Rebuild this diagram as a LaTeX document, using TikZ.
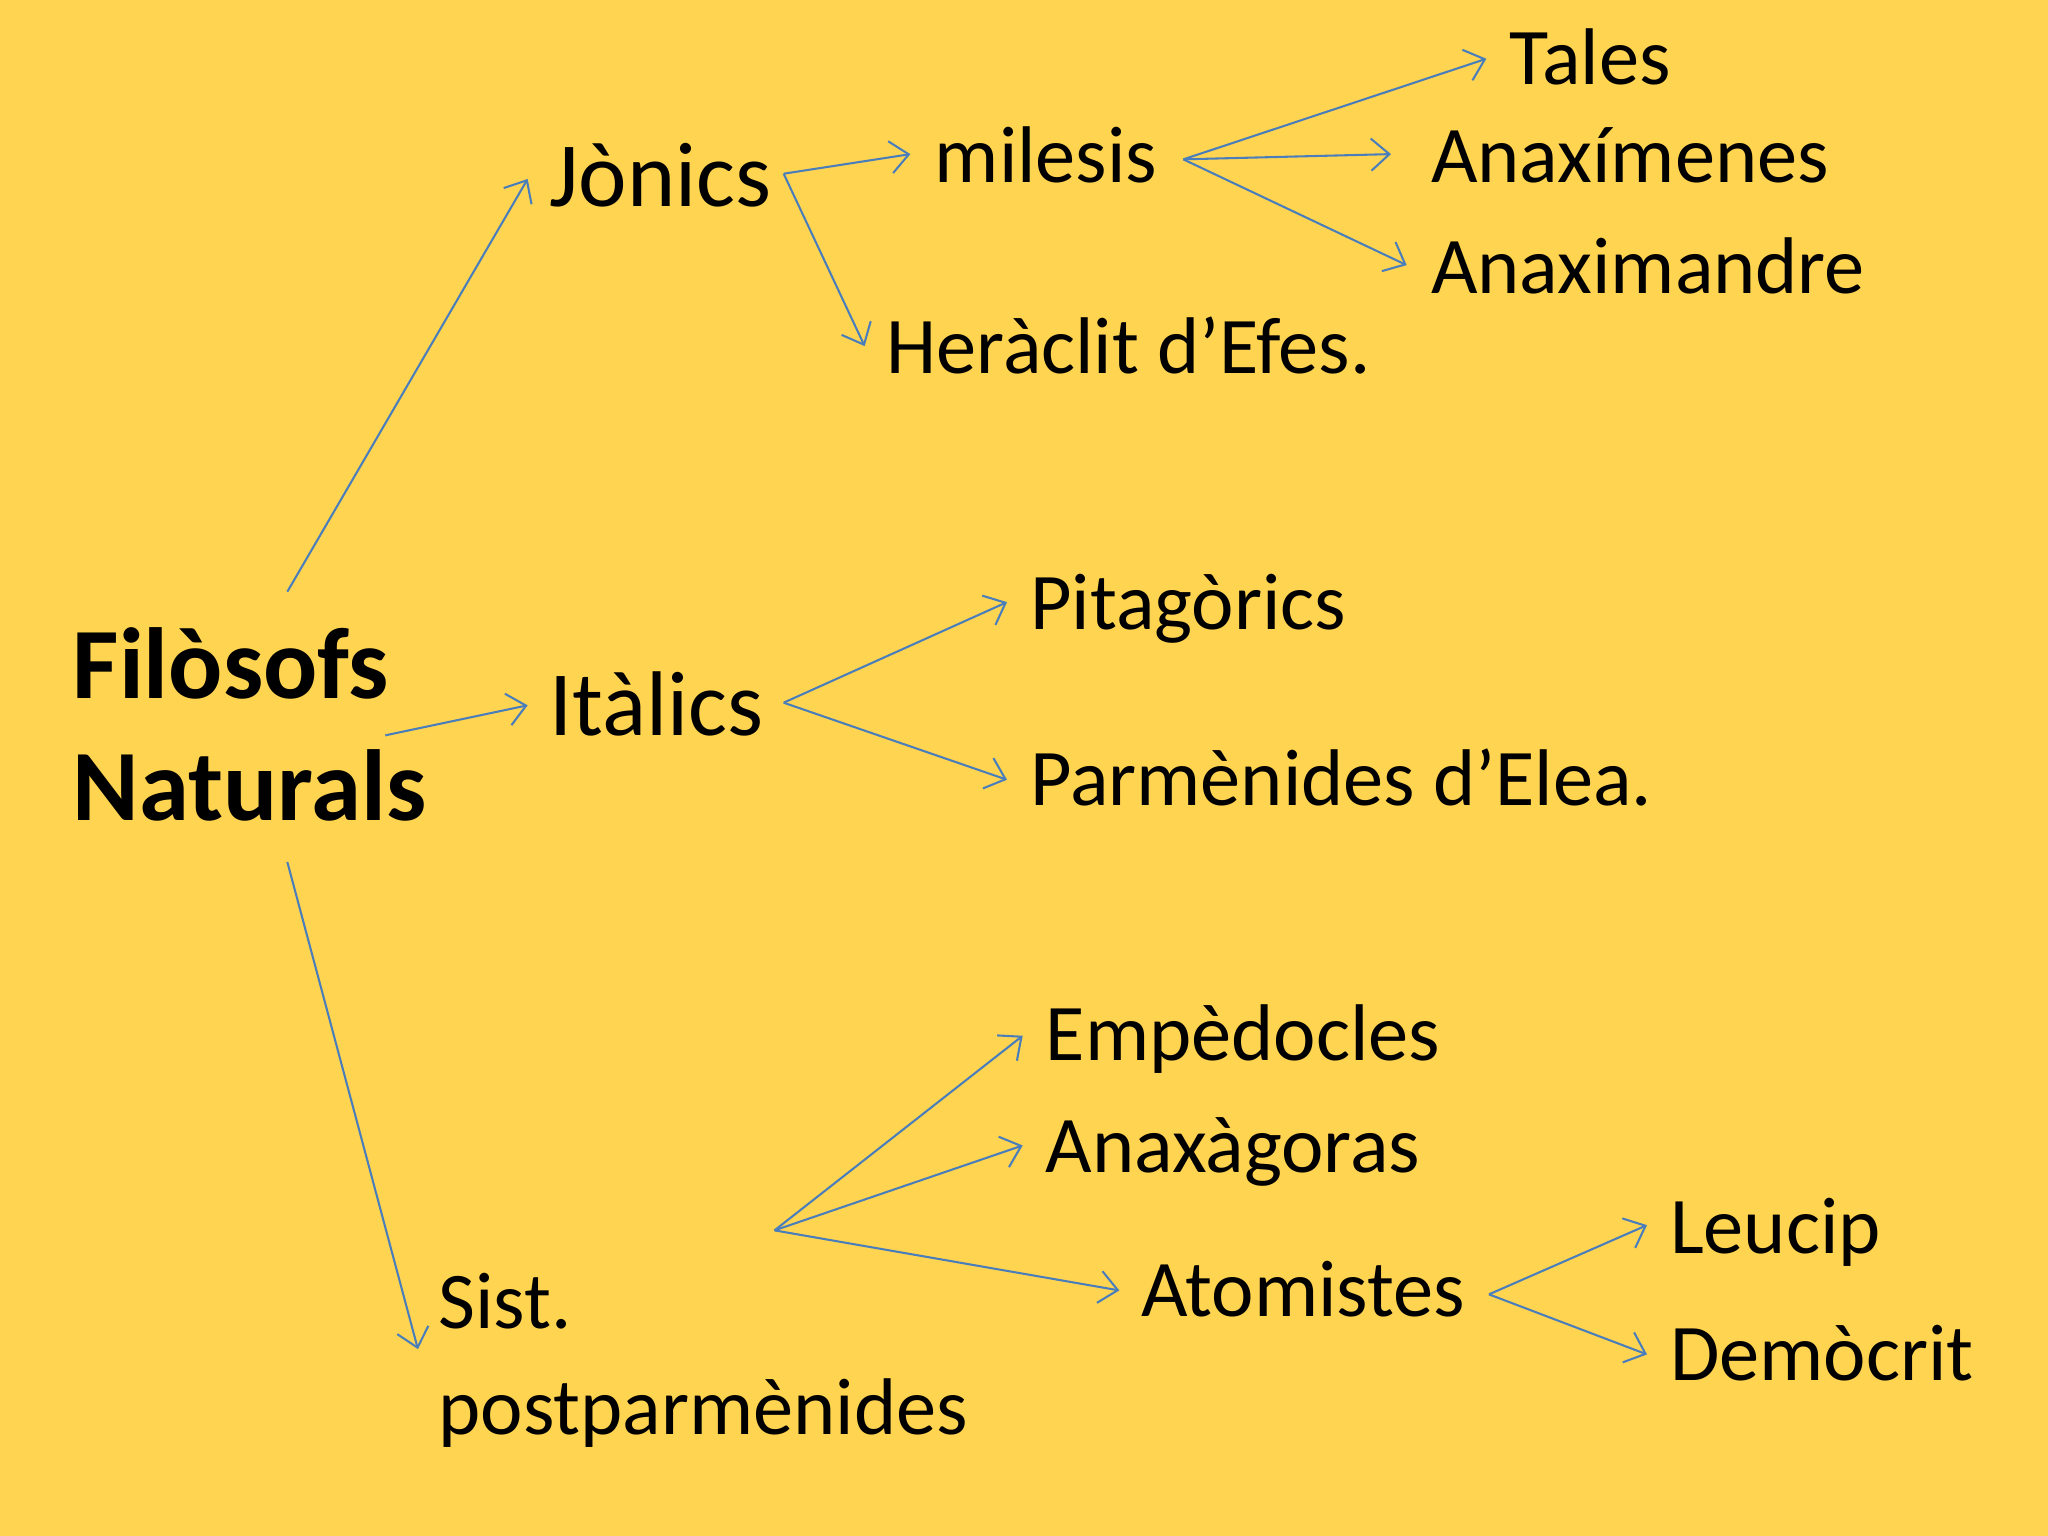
\documentclass[tikz,border=0pt]{standalone}
\usepackage{fontspec}
\setmainfont{Carlito}
\usetikzlibrary{arrows.meta}
\definecolor{bg}{HTML}{FFD451}
\definecolor{ln}{HTML}{4A7EBB}
\begin{document}
\begin{tikzpicture}[x=0.01cm,y=-0.01cm,
  lbl/.style={anchor=base west,inner sep=0pt,font=\fontsize{17.5pt}{21pt}\selectfont},
  big/.style={anchor=base west,inner sep=0pt,font=\fontsize{20pt}{24pt}\selectfont},
  root/.style={anchor=base west,inner sep=0pt,font=\fontsize{22pt}{26pt}\selectfont\bfseries},
  arr/.style={draw=ln,line width=0.45pt,-{Straight Barb[length=4pt,width=7pt]}}]
\fill[bg] (0,0) rectangle (1568,1176);
\useasboundingbox (0,0) rectangle (1568,1176);
\node[root] (fil) at (55,535) {Filòsofs};
\node[root] (nat) at (55,628) {Naturals};
\node[big] (jon) at (420,158) {Jònics};
\node[big] (ita) at (420,563) {Itàlics};
\node[lbl] (sist) at (335,1017) {Sist.};
\node[lbl] (post) at (335,1098) {postparmènides};
\node[lbl] (mil) at (715,140) {milesis};
\node[lbl] (her) at (678,286) {Heràclit d’Efes.};
\node[lbl] (tal) at (1155,65) {Tales};
\node[lbl] (axm) at (1095,140) {Anaxímenes};
\node[lbl] (axd) at (1095,225) {Anaximandre};
\node[lbl] (pit) at (788,482) {Pitagòrics};
\node[lbl] (par) at (788,617) {Parmènides d’Elea.};
\node[lbl] (emp) at (800,812) {Empèdocles};
\node[lbl] (axg) at (800,898) {Anaxàgoras};
\node[lbl] (ato) at (873,1008) {Atomistes};
\node[lbl] (leu) at (1278,960) {Leucip};
\node[lbl] (dem) at (1278,1057) {Demòcrit};
\coordinate (r1) at (220,453); \coordinate (r2) at (295,563); \coordinate (r3) at (220,660);
\coordinate (j0) at (600,133); \coordinate (m0) at (906,122);
\coordinate (i0) at (600,538); \coordinate (s0) at (593,942); \coordinate (a0) at (1140,991);
\draw[arr] (r1) -- (404,137);
\draw[arr] (r2) -- (404,540);
\draw[arr] (r3) -- (320,1033);
\draw[arr] (j0) -- (697,118);
\draw[arr] (j0) -- (662,265);
\draw[arr] (m0) -- (1138,45);
\draw[arr] (m0) -- (1065,118);
\draw[arr] (m0) -- (1077,203);
\draw[arr] (i0) -- (771,461);
\draw[arr] (i0) -- (771,597);
\draw[arr] (s0) -- (783,793);
\draw[arr] (s0) -- (783,877);
\draw[arr] (s0) -- (857,988);
\draw[arr] (a0) -- (1261,938);
\draw[arr] (a0) -- (1261,1037);
\end{tikzpicture}
\end{document}
